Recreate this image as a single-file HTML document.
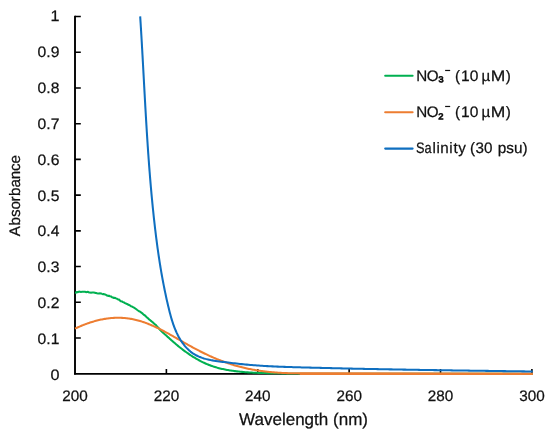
<!DOCTYPE html>
<html lang="en">
<head>
<meta charset="utf-8">
<title>Absorbance vs Wavelength</title>
<style>
html,body{margin:0;padding:0;background:#fff}
body{width:550px;height:435px;overflow:hidden}
</style>
</head>
<body>
<svg width="550" height="435" viewBox="0 0 550 435" style="display:block;text-rendering:geometricPrecision">
<rect width="550" height="435" fill="#fff"/>
<g stroke="#000" fill="none" stroke-linecap="butt">
<path stroke-width="1.9" d="M75.00 15.70V374.62"/>
<path stroke-width="1.75" d="M74.05 373.75H532.70"/>
<path stroke-width="1.6" d="M75.00 338.02H80.8M75.00 302.30H80.8M75.00 266.57H80.8M75.00 230.85H80.8M75.00 195.12H80.8M75.00 159.40H80.8M75.00 123.68H80.8M75.00 87.95H80.8M75.00 52.23H80.8M75.00 16.50H80.8M166.38 373.75V369.1M257.76 373.75V369.1M349.14 373.75V369.1M440.52 373.75V369.1M531.90 373.75V369.1"/>
</g>
<g fill="none" stroke-width="2.05" stroke-linejoin="round" stroke-linecap="butt">
<path stroke="#00b050" d="M75.00 292.43L76.00 292.62L77.00 291.97L78.00 292.15L79.00 291.64L80.00 291.73L81.00 291.91L82.00 291.84L83.00 291.79L84.00 291.81L85.00 291.75L86.00 292.14L87.00 291.96L88.00 291.79L89.00 292.56L90.00 292.53L91.00 292.67L92.00 292.48L93.00 292.55L94.00 292.57L95.00 292.88L96.00 292.98L97.00 293.29L98.00 293.45L99.00 293.50L100.00 293.39L101.00 293.40L102.00 293.88L103.00 294.14L104.00 294.11L105.00 294.45L106.00 294.94L107.00 295.53L108.00 295.87L109.00 295.71L110.00 296.33L111.00 296.40L112.00 297.21L113.00 297.53L114.00 297.99L115.00 297.81L116.00 298.38L117.00 298.76L118.00 299.48L119.00 299.61L120.00 300.58L121.00 301.34L122.00 301.44L123.00 302.14L124.00 302.43L125.00 303.16L126.00 303.59L127.00 303.92L128.00 304.55L129.00 304.97L130.00 305.45L131.00 306.28L132.00 306.48L133.00 307.19L134.00 307.64L135.00 308.28L136.00 308.98L137.00 309.79L138.00 310.53L139.00 311.23L140.00 311.59L141.00 312.48L142.00 313.07L143.00 314.07L144.00 314.94L145.00 315.50L146.00 316.46L147.00 317.44L148.00 318.30L149.00 319.34L150.00 319.99L151.00 320.92L152.00 321.70L153.00 322.60L154.00 323.59L155.00 324.46L156.00 325.09L157.00 326.44L158.00 327.46L159.00 328.54L160.00 329.72L161.00 330.72L162.00 331.78L163.00 332.61L164.00 333.49L165.00 334.48L166.00 335.25L167.00 336.20L168.00 337.14L169.00 338.03L170.00 338.93L171.00 339.85L172.00 340.70L173.00 341.61L174.00 342.48L175.00 343.34L176.00 344.19L177.00 345.03L178.00 345.85L179.00 346.67L180.00 347.48L181.00 348.27L182.00 349.05L183.00 349.82L184.00 350.57L185.00 351.32L186.00 352.04L187.00 352.76L188.00 353.46L189.00 354.15L190.00 354.83L191.00 355.49L192.00 356.13L193.00 356.77L194.00 357.39L195.00 357.99L196.00 358.58L197.00 359.16L198.00 359.72L199.00 360.27L200.00 360.80L201.00 361.32L202.00 361.83L203.00 362.32L204.00 362.79L205.00 363.25L206.00 363.70L207.00 364.13L208.00 364.55L209.00 364.95L210.00 365.33L211.00 365.70L212.00 366.06L213.00 366.40L214.00 366.72L215.00 367.04L216.00 367.34L217.00 367.62L218.00 367.90L219.00 368.16L220.00 368.41L221.00 368.65L222.00 368.88L223.00 369.10L224.00 369.31L225.00 369.51L226.00 369.70L227.00 369.89L228.00 370.06L229.00 370.23L230.00 370.40L231.00 370.55L232.00 370.70L233.00 370.85L234.00 370.99L235.00 371.12L236.00 371.24L237.00 371.36L238.00 371.48L239.00 371.59L240.00 371.69L241.00 371.79L242.00 371.89L243.00 371.98L244.00 372.06L245.00 372.15L246.00 372.22L247.00 372.30L248.00 372.36L249.00 372.43L250.00 372.49L251.00 372.55L252.00 372.60L253.00 372.65L254.00 372.70L255.00 372.75L256.00 372.79L257.00 372.83L258.00 372.87L259.00 372.90L260.00 372.93L261.00 372.96L262.00 372.99L263.00 373.02L264.00 373.04L265.00 373.07L266.00 373.09L267.00 373.11L268.00 373.13L269.00 373.15L270.00 373.17L271.00 373.18L272.00 373.20L273.00 373.22L274.00 373.23L275.00 373.25L276.00 373.26L277.00 373.28L278.00 373.30L279.00 373.32L280.00 373.33L281.00 373.35L282.00 373.37L283.00 373.39L284.00 373.41L285.00 373.44L286.00 373.46L287.00 373.49L532.70 373.90"/>
<path stroke="#ed7d31" d="M75.00 328.65L76.00 328.18L77.00 327.71L78.00 327.26L79.00 326.82L80.00 326.39L81.00 325.96L82.00 325.55L83.00 325.14L84.00 324.75L85.00 324.37L86.00 323.99L87.00 323.62L88.00 323.27L89.00 322.92L90.00 322.59L91.00 322.27L92.00 321.95L93.00 321.65L94.00 321.36L95.00 321.07L96.00 320.80L97.00 320.54L98.00 320.29L99.00 320.06L100.00 319.83L101.00 319.61L102.00 319.41L103.00 319.22L104.00 319.04L105.00 318.87L106.00 318.71L107.00 318.56L108.00 318.43L109.00 318.31L110.00 318.20L111.00 318.10L112.00 318.02L113.00 317.94L114.00 317.88L115.00 317.84L116.00 317.80L117.00 317.78L118.00 317.77L119.00 317.77L120.00 317.79L121.00 317.82L122.00 317.86L123.00 317.92L124.00 317.99L125.00 318.08L126.00 318.17L127.00 318.28L128.00 318.41L129.00 318.55L130.00 318.70L131.00 318.87L132.00 319.05L133.00 319.24L134.00 319.45L135.00 319.68L136.00 319.92L137.00 320.17L138.00 320.43L139.00 320.71L140.00 321.01L141.00 321.31L142.00 321.63L143.00 321.96L144.00 322.30L145.00 322.65L146.00 323.02L147.00 323.39L148.00 323.78L149.00 324.18L150.00 324.59L151.00 325.01L152.00 325.43L153.00 325.87L154.00 326.32L155.00 326.78L156.00 327.24L157.00 327.72L158.00 328.20L159.00 328.69L160.00 329.19L161.00 329.70L162.00 330.21L163.00 330.73L164.00 331.26L165.00 331.79L166.00 332.33L167.00 332.87L168.00 333.42L169.00 333.97L170.00 334.53L171.00 335.09L172.00 335.66L173.00 336.22L174.00 336.79L175.00 337.36L176.00 337.94L177.00 338.51L178.00 339.08L179.00 339.66L180.00 340.23L181.00 340.81L182.00 341.38L183.00 341.95L184.00 342.52L185.00 343.09L186.00 343.66L187.00 344.22L188.00 344.78L189.00 345.34L190.00 345.89L191.00 346.44L192.00 346.99L193.00 347.53L194.00 348.07L195.00 348.61L196.00 349.14L197.00 349.66L198.00 350.19L199.00 350.70L200.00 351.22L201.00 351.73L202.00 352.23L203.00 352.73L204.00 353.22L205.00 353.71L206.00 354.19L207.00 354.67L208.00 355.14L209.00 355.61L210.00 356.06L211.00 356.52L212.00 356.96L213.00 357.40L214.00 357.84L215.00 358.27L216.00 358.69L217.00 359.10L218.00 359.51L219.00 359.91L220.00 360.31L221.00 360.70L222.00 361.08L223.00 361.46L224.00 361.83L225.00 362.19L226.00 362.54L227.00 362.89L228.00 363.24L229.00 363.57L230.00 363.90L231.00 364.23L232.00 364.54L233.00 364.85L234.00 365.16L235.00 365.45L236.00 365.74L237.00 366.02L238.00 366.30L239.00 366.57L240.00 366.83L241.00 367.09L242.00 367.34L243.00 367.58L244.00 367.82L245.00 368.05L246.00 368.27L247.00 368.49L248.00 368.70L249.00 368.91L250.00 369.11L251.00 369.31L252.00 369.50L253.00 369.68L254.00 369.86L255.00 370.03L256.00 370.20L257.00 370.36L258.00 370.52L259.00 370.67L260.00 370.82L261.00 370.96L262.00 371.09L263.00 371.23L264.00 371.35L265.00 371.48L266.00 371.59L267.00 371.71L268.00 371.81L269.00 371.92L270.00 372.02L271.00 372.11L272.00 372.21L273.00 372.29L274.00 372.38L275.00 372.45L276.00 372.53L277.00 372.60L278.00 372.67L279.00 372.73L280.00 372.79L281.00 372.85L282.00 372.90L283.00 372.95L284.00 373.00L285.00 373.04L286.00 373.08L287.00 373.12L288.00 373.15L289.00 373.19L290.00 373.21L291.00 373.24L292.00 373.26L293.00 373.28L294.00 373.30L295.00 373.31L296.00 373.33L297.00 373.34L298.00 373.35L299.00 373.35L300.00 373.36L532.70 373.80"/>
<path stroke="#ed7d31" stroke-width="2.3" d="M300 373.80H532.70"/>
<path stroke="#0f6fc0" d="M140.18 16.42L140.30 18.13L140.40 19.85L140.51 21.56L140.62 23.28L140.73 24.99L140.83 26.71L140.94 28.42L141.04 30.14L141.15 31.86L141.25 33.57L141.35 35.29L141.46 37.01L141.56 38.73L141.66 40.44L141.76 42.16L141.86 43.88L141.95 45.60L142.05 47.32L142.15 49.04L142.25 50.76L142.34 52.48L142.44 54.20L142.54 55.92L142.63 57.64L142.73 59.36L142.82 61.08L142.92 62.80L143.01 64.52L143.11 66.24L143.20 67.96L143.29 69.68L143.39 71.41L143.48 73.13L143.58 74.85L143.67 76.57L143.76 78.29L143.86 80.01L143.95 81.74L144.05 83.46L144.14 85.18L144.23 86.90L144.33 88.63L144.42 90.35L144.52 92.07L144.61 93.79L144.71 95.52L144.80 97.24L144.90 98.96L144.99 100.69L145.09 102.41L145.19 104.13L145.28 105.85L145.38 107.58L145.48 109.30L145.58 111.02L145.68 112.75L145.78 114.47L145.88 116.19L145.98 117.91L146.08 119.64L146.18 121.36L146.29 123.08L146.39 124.80L146.50 126.53L146.60 128.25L146.71 129.97L146.81 131.69L146.92 133.42L147.03 135.14L147.14 136.86L147.25 138.58L147.36 140.30L147.48 142.03L147.59 143.75L147.70 145.47L147.82 147.19L147.94 148.91L148.05 150.63L148.17 152.35L148.29 154.07L148.42 155.79L148.54 157.51L148.66 159.23L148.79 160.95L148.92 162.67L149.04 164.39L149.17 166.11L149.31 167.83L149.44 169.55L149.57 171.27L149.71 172.99L149.85 174.71L149.98 176.42L150.12 178.14L150.27 179.86L150.41 181.58L150.56 183.29L150.70 185.01L150.85 186.72L151.00 188.44L151.15 190.16L151.31 191.87L151.46 193.59L151.62 195.30L151.78 197.02L151.94 198.73L152.11 200.44L152.27 202.16L152.44 203.87L152.61 205.58L152.78 207.29L152.95 209.01L153.13 210.72L153.31 212.43L153.49 214.14L153.67 215.85L153.85 217.56L154.04 219.27L154.23 220.98L154.42 222.69L154.62 224.40L154.81 226.10L155.01 227.81L155.21 229.52L155.42 231.23L155.62 232.93L155.83 234.64L156.04 236.34L156.26 238.05L156.48 239.75L156.70 241.46L156.92 243.16L157.15 244.86L157.38 246.57L157.61 248.27L157.85 249.97L158.09 251.67L158.33 253.37L158.58 255.07L158.83 256.77L159.09 258.47L159.35 260.17L159.61 261.87L159.88 263.57L160.16 265.27L160.43 266.97L160.71 268.67L161.00 270.36L161.29 272.06L161.58 273.76L161.88 275.45L162.19 277.15L162.50 278.84L162.81 280.54L163.13 282.23L163.45 283.93L163.78 285.62L164.12 287.31L164.46 289.01L164.80 290.70L165.15 292.39L165.51 294.08L165.87 295.78L166.24 297.47L166.61 299.16L166.99 300.85L167.38 302.54L167.77 304.23L168.17 305.92L168.57 307.61L168.98 309.30L169.40 310.98L169.83 312.67L170.27 314.35L170.72 316.03L171.20 317.70L171.69 319.36L172.20 321.02L172.73 322.67L173.28 324.31L173.86 325.93L174.47 327.55L175.11 329.15L175.78 330.74L176.48 332.32L177.22 333.88L177.99 335.42L178.80 336.95L179.66 338.45L180.55 339.93L181.49 341.39L182.47 342.81L183.49 344.20L184.56 345.55L185.66 346.86L186.81 348.12L188.00 349.32L189.24 350.48L190.52 351.57L191.84 352.59L193.21 353.55L194.62 354.44L196.07 355.25L197.56 356.00L199.09 356.69L200.66 357.31L202.25 357.88L203.87 358.40L205.52 358.87L207.19 359.30L208.88 359.69L210.59 360.05L212.31 360.37L214.05 360.67L215.79 360.94L217.53 361.20L219.28 361.43L221.03 361.66L222.78 361.88L224.52 362.10L226.25 362.32L227.98 362.53L229.71 362.74L231.43 362.95L233.14 363.15L234.86 363.35L236.57 363.55L238.27 363.74L239.98 363.92L241.68 364.11L243.38 364.28L245.09 364.45L246.79 364.62L248.49 364.78L250.20 364.93L251.91 365.07L253.61 365.21L255.32 365.35L257.03 365.47L258.74 365.60L260.46 365.71L262.17 365.82L263.89 365.93L265.60 366.03L267.32 366.13L269.04 366.22L270.76 366.31L272.48 366.39L274.20 366.47L275.92 366.55L277.64 366.62L279.36 366.69L281.09 366.75L282.81 366.82L284.54 366.88L286.26 366.94L287.99 367.00L289.71 367.05L291.44 367.10L293.16 367.16L294.89 367.21L296.61 367.26L298.34 367.30L300.06 367.35L301.79 367.40L303.52 367.45L305.24 367.49L306.97 367.54L308.69 367.58L310.42 367.63L312.14 367.67L313.87 367.72L315.59 367.76L317.32 367.81L319.04 367.85L320.77 367.89L322.49 367.93L324.22 367.98L325.94 368.02L327.66 368.06L329.39 368.10L331.11 368.14L332.84 368.18L334.56 368.22L336.28 368.26L338.01 368.30L339.73 368.34L341.45 368.38L343.18 368.42L344.90 368.46L346.62 368.50L348.35 368.54L350.07 368.57L351.79 368.61L353.52 368.65L355.24 368.68L356.96 368.72L358.69 368.76L360.41 368.79L362.13 368.83L363.85 368.86L365.58 368.90L367.30 368.93L369.02 368.97L370.74 369.00L372.47 369.04L374.19 369.07L375.91 369.10L377.63 369.14L379.36 369.17L381.08 369.20L382.80 369.23L384.52 369.27L386.25 369.30L387.97 369.33L389.69 369.36L391.41 369.39L393.13 369.42L394.86 369.46L396.58 369.49L398.30 369.52L400.02 369.55L401.74 369.58L403.47 369.61L405.19 369.64L406.91 369.67L408.63 369.70L410.35 369.72L412.08 369.75L413.80 369.78L415.52 369.81L417.24 369.84L418.96 369.87L420.68 369.90L422.41 369.92L424.13 369.95L425.85 369.98L427.57 370.01L429.29 370.03L431.02 370.06L432.74 370.09L434.46 370.11L436.18 370.14L437.90 370.17L439.63 370.19L441.35 370.22L443.07 370.25L444.79 370.27L446.52 370.30L448.24 370.32L449.96 370.35L451.68 370.37L453.40 370.40L455.13 370.43L456.85 370.45L458.57 370.48L460.29 370.50L462.02 370.53L463.74 370.55L465.46 370.58L467.18 370.60L468.91 370.62L470.63 370.65L472.35 370.67L474.08 370.70L475.80 370.72L477.52 370.75L479.24 370.77L480.97 370.80L482.69 370.82L484.41 370.84L486.14 370.87L487.86 370.89L489.58 370.92L491.31 370.94L493.03 370.96L494.76 370.99L496.48 371.01L498.20 371.03L499.93 371.06L501.65 371.08L503.38 371.11L505.10 371.13L506.82 371.15L508.55 371.18L510.27 371.20L512.00 371.22L513.72 371.25L515.45 371.27L517.17 371.29L518.90 371.32L520.62 371.34L522.35 371.37L524.07 371.39L525.80 371.41L527.52 371.44L529.25 371.46L530.98 371.48L532.70 371.51"/>
</g>
<g stroke-width="2.1" stroke-linecap="round">
<path stroke="#00b050" d="M385.2 75.8H412.6"/>
<path stroke="#ed7d31" d="M385.2 112.2H412.6"/>
<path stroke="#0f6fc0" d="M385.2 148.6H412.6"/>
</g>
<g font-family="'Liberation Sans', 'DejaVu Sans', sans-serif" fill="#111" stroke="#111" stroke-width="0.25" font-size="15.2">
<text x="50.40" y="379.50" textLength="9.0" lengthAdjust="spacingAndGlyphs">0</text>
<text x="37.60" y="343.71" textLength="21.8" lengthAdjust="spacingAndGlyphs">0.1</text>
<text x="37.60" y="307.92" textLength="21.8" lengthAdjust="spacingAndGlyphs">0.2</text>
<text x="37.60" y="272.13" textLength="21.8" lengthAdjust="spacingAndGlyphs">0.3</text>
<text x="37.60" y="236.34" textLength="21.8" lengthAdjust="spacingAndGlyphs">0.4</text>
<text x="37.60" y="200.55" textLength="21.8" lengthAdjust="spacingAndGlyphs">0.5</text>
<text x="37.60" y="164.76" textLength="21.8" lengthAdjust="spacingAndGlyphs">0.6</text>
<text x="37.60" y="128.97" textLength="21.8" lengthAdjust="spacingAndGlyphs">0.7</text>
<text x="37.60" y="93.18" textLength="21.8" lengthAdjust="spacingAndGlyphs">0.8</text>
<text x="37.60" y="57.39" textLength="21.8" lengthAdjust="spacingAndGlyphs">0.9</text>
<text x="50.40" y="20.60" textLength="9.0" lengthAdjust="spacingAndGlyphs">1</text>
<text x="62.35" y="401.0" textLength="25.5" lengthAdjust="spacingAndGlyphs">200</text>
<text x="153.73" y="401.0" textLength="25.5" lengthAdjust="spacingAndGlyphs">220</text>
<text x="245.11" y="401.0" textLength="25.5" lengthAdjust="spacingAndGlyphs">240</text>
<text x="336.49" y="401.0" textLength="25.5" lengthAdjust="spacingAndGlyphs">260</text>
<text x="427.87" y="401.0" textLength="25.5" lengthAdjust="spacingAndGlyphs">280</text>
<text x="519.25" y="401.0" textLength="25.5" lengthAdjust="spacingAndGlyphs">300</text>
<text transform="translate(20.1 236.5) rotate(-90)" x="0.3 11.1 19.4 27 34.9 40.5 48.9 57.25 65.4 73">Absorbance</text>
<text x="239" y="425.1" font-size="17" textLength="129" lengthAdjust="spacingAndGlyphs">Wavelength (nm)</text>
<text y="80.8"><tspan x="416.25">N</tspan><tspan x="426.8">O</tspan><tspan x="438.0" dy="0.4" font-size="14.9" stroke-width="0.8">₃</tspan><tspan x="444.8" dy="-5.2" font-size="11" stroke-width="0.7">⁻</tspan> <tspan x="455.05" dy="4.7">(</tspan><tspan x="461.05" textLength="17.3" lengthAdjust="spacingAndGlyphs">10</tspan> <tspan x="481.4">µ</tspan><tspan x="490.7" textLength="14.56" lengthAdjust="spacingAndGlyphs">M</tspan><tspan x="505.7">)</tspan></text>
<text y="117.2"><tspan x="416.25">N</tspan><tspan x="426.8">O</tspan><tspan x="438.0" dy="0.4" font-size="14.9" stroke-width="0.8">₂</tspan><tspan x="444.8" dy="-5.2" font-size="11" stroke-width="0.7">⁻</tspan> <tspan x="455.05" dy="4.7">(</tspan><tspan x="461.05" textLength="17.3" lengthAdjust="spacingAndGlyphs">10</tspan> <tspan x="481.4">µ</tspan><tspan x="490.7" textLength="14.56" lengthAdjust="spacingAndGlyphs">M</tspan><tspan x="505.7">)</tspan></text>
<text y="153.2"><tspan x="415.9" textLength="15.6" lengthAdjust="spacingAndGlyphs">Sa</tspan><tspan x="432.4 436.4 440.3 449.3 453.5 458.15">linity</tspan> <tspan x="469.96">(</tspan><tspan x="475.6">30</tspan> <tspan x="497.8" textLength="29.8" lengthAdjust="spacingAndGlyphs">psu)</tspan></text>
</g>
</svg>
</body>
</html>
